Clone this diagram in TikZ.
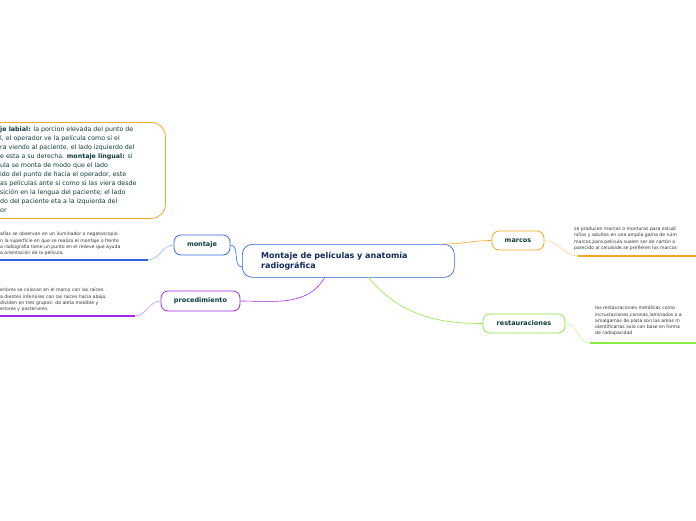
\documentclass[tikz,border=0pt]{standalone}
\usepackage{fontspec}
\setmainfont{DejaVu Sans}
\definecolor{cb}{HTML}{3366E6}
\definecolor{cp}{HTML}{A626E8}
\definecolor{co}{HTML}{F5A623}
\definecolor{cg}{HTML}{8CEB3C}
\definecolor{tx}{HTML}{0D3B3B}
\definecolor{nv}{HTML}{0F2A5C}
\begin{document}
\begin{tikzpicture}[x=1pt,y=-1pt,
  topic/.style={draw,rounded corners=7pt,line width=0.8pt,fill=white,font=\bfseries\fontsize{6.5}{7}\selectfont,text=tx,inner sep=0pt},
  small/.style={anchor=north west,align=left,inner sep=0pt,font=\fontsize{4.6}{6.2}\selectfont,text=black!80},
  conn/.style={line width=0.6pt}]
\useasboundingbox (0,0) rectangle (696,520);
\clip (0,0) rectangle (696,520);
\fill[white] (0,0) rectangle (696,520);
% big orange box
\node[draw=co,line width=0.8pt,rounded corners=14pt,minimum width=195pt,minimum height=96pt,anchor=north west,inner sep=0pt] (big) at (-30,122) {};
\node[anchor=north west,align=left,inner sep=0pt,font=\fontsize{6.3}{9}\selectfont,text=tx] (bigt) at (0,127) {%
\textbf{je labial:} la porcion elevada del punto de\\
l, el operador ve la película como si el\\
ra viendo al paciente, el lado izquierdo del\\
e esta a su derecha. \textbf{montaje lingual:} si\\
ula se monta de modo que el lado\\
ido del punto de hacia el operador, este\\
as películas ante si como si las viera desde\\
sición en la lengua del paciente; el lado\\
do del paciente eta a la izquierda del\\
or};
% central
\node[draw=cb,line width=0.7pt,rounded corners=10pt,minimum width=212pt,minimum height=33pt,anchor=north west,inner sep=0pt] (c) at (242,244) {};
\node[anchor=west,align=left,inner sep=0pt,font=\bfseries\fontsize{8}{10}\selectfont,text=nv] (ct) at (261,261) {Montaje de películas y anatomía\\radiográfica};
% topics
\node[topic,draw=cb,minimum width=56pt,minimum height=20pt] (mon) at (202,245) {montaje};
\node[topic,draw=cp,minimum width=79pt,minimum height=20pt] (pro) at (200.5,301) {procedimiento};
\node[topic,draw=co,minimum width=52pt,minimum height=19pt] (mar) at (518,240.5) {marcos};
\node[topic,draw=cg,minimum width=82pt,minimum height=19pt] (res) at (524,323.5) {restauraciones};
% texts
\node[small] (mont) at (0,232) {afías se observan en un iluminador o negatoscopio\\n la superficie en que se realizo el montaje o frente\\a radiografía tiene un punto en el relieve que ayuda\\a orientación de la película.};
\node[small] (prot) at (0,288) {eriores se colocan en el marco con las raíces\\a dientes inferiores con las raíces hacia abajo,\\divíden en tres grupos: de aleta medible y\\eriores y posteriores.};
\node[small] (mart) at (574,227) {se producen marcos o monturas para estudi\\niños y adultos en una amplia gama de núm\\marcos para película suelen ser de cartón o\\parecido al celuloide.se prefieren los marcos};
\node[small] (rest) at (595,306) {las restauraciones metálicas como\\incrustaciones,coronas,laminados o a\\amalgamas de plata son las areas m\\identificarlas solo con base en forma\\de radiopacidad};
\coordinate (mu) at (148,260);
\coordinate (pu) at (135,316);
\coordinate (ru0) at (578,256);
\coordinate (gu0) at (590,343);
\draw[cb,line width=1.2pt] (0,260) -- (mu);
\draw[cp,line width=1.2pt] (0,316) -- (pu);
\draw[co,line width=1.2pt] (ru0) -- (696,256);
\draw[cg,line width=1.2pt] (gu0) -- (696,343);
% connectors
\draw[conn,cb] (c.west) ++(0,6) to[out=180,in=0] (mon.east);
\draw[conn,cp] (325,277) to[out=240,in=0] (pro.east);
\draw[conn,co] (444,244) to[out=0,in=180] (mar.west);
\draw[conn,cg] (368,277) to[out=-50,in=180] (res.west);
\draw[conn,cb!50] (mon.west) to[out=180,in=0] (mu);
\draw[conn,cp!50] (pro.west) to[out=180,in=0] (pu);
\draw[conn,co!50] (mar.east) to[out=0,in=180] (ru0);
\draw[conn,cg!50] (res.east) to[out=0,in=180] (gu0);
\end{tikzpicture}
\end{document}
